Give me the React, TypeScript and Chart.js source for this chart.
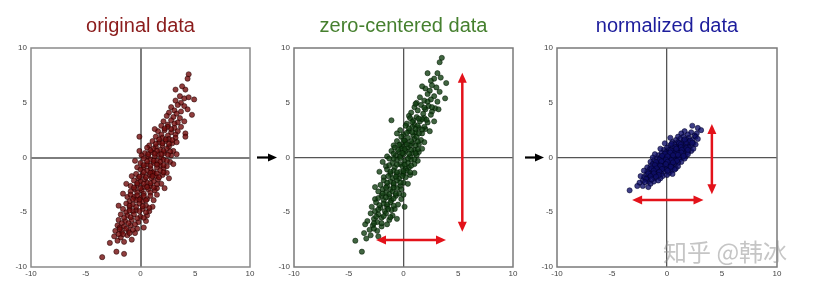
import React, { useEffect, useRef } from "react";
import { Chart, registerables } from "chart.js";

Chart.register(...registerables);

type Pt = [number, number];

const titles = ["original data", "zero-centered data", "normalized data"];
const axisMin = -10;
const axisMax = 10;
const tickStep = 5;
const watermarkText = "知乎 @韩冰";

const originalData: Pt[] = [
  [4.4, 7.6], [4.3, 7.2],
  [3.2, 6.2], [4.1, 6.2], [3.8, 6.5],
  [4.9, 5.3], [3.6, 5.6], [3.2, 5.2], [4.0, 5.4], [3.7, 5.0], [4.4, 5.5],
  [2.8, 4.6], [3.4, 4.8], [4.0, 4.7], [3.1, 4.3], [3.7, 4.2], [2.6, 4.1], [4.3, 4.4], [3.3, 4.0],
  [4.7, 3.9], [2.4, 3.8], [3.0, 3.7], [3.6, 3.6], [2.1, 3.3], [2.8, 3.4], [3.4, 3.2], [4.0, 3.3], [2.5, 3.0], [3.1, 3.1],
  [1.9, 2.9], [2.5, 2.8], [3.1, 2.7], [3.7, 2.8], [1.6, 2.4], [2.2, 2.5], [2.8, 2.3], [3.4, 2.4], [1.9, 2.1], [2.5, 2.0], [3.2, 2.1], [4.1, 2.2], [1.3, 2.6],
  [-0.1, 1.9], [4.1, 1.9], [1.4, 1.9], [2.0, 1.8], [2.6, 1.7], [3.2, 1.8], [1.1, 1.5], [1.7, 1.4], [2.3, 1.5], [2.9, 1.3], [0.8, 1.1], [1.4, 1.0], [2.0, 1.1], [2.6, 1.0], [3.3, 1.4],
  [0.6, 0.9], [1.2, 0.8], [1.8, 0.7], [2.4, 0.8], [3.0, 0.6], [0.4, 0.4], [1.0, 0.5], [1.6, 0.3], [2.2, 0.4], [2.8, 0.2], [0.1, 0.2], [0.7, 0.1], [1.3, 0.1], [1.9, 0.0], [3.3, 0.3], [-0.1, 0.6],
  [0.3, -0.1], [0.9, -0.2], [1.5, -0.3], [2.1, -0.2], [2.7, -0.4], [0.0, -0.5], [0.6, -0.6], [1.2, -0.5], [1.8, -0.7], [2.4, -0.8], [-0.3, -0.9], [0.3, -0.9], [0.9, -1.0], [1.5, -0.9], [3.0, -0.6], [-0.5, -0.3], [2.1, -1.0],
  [0.0, -1.1], [0.6, -1.2], [1.2, -1.3], [1.8, -1.2], [2.4, -1.4], [-0.4, -1.5], [0.2, -1.6], [0.8, -1.6], [1.4, -1.7], [2.0, -1.6], [-0.2, -1.9], [0.4, -2.0], [1.0, -1.9], [1.6, -2.0], [-0.8, -1.7], [2.6, -1.9], [1.1, -1.4],
  [-0.6, -2.1], [0.0, -2.2], [0.6, -2.3], [1.2, -2.2], [1.9, -2.4], [-0.9, -2.6], [-0.3, -2.5], [0.3, -2.7], [0.9, -2.6], [1.5, -2.8], [-0.5, -2.9], [0.1, -3.0], [0.7, -2.9], [-1.3, -2.4], [2.2, -2.8], [1.3, -3.0],
  [-0.9, -3.1], [-0.3, -3.2], [0.3, -3.3], [0.9, -3.2], [1.5, -3.4], [-1.2, -3.6], [-0.6, -3.6], [0.0, -3.7], [0.6, -3.8], [-1.0, -4.0], [-0.4, -3.9], [0.2, -4.0], [1.2, -3.9], [-1.6, -3.3],
  [-1.3, -4.2], [-0.7, -4.3], [-0.1, -4.2], [0.5, -4.4], [1.1, -4.5], [-1.6, -4.7], [-1.0, -4.6], [-0.4, -4.8], [0.2, -4.7], [-1.3, -5.0], [-0.7, -4.9], [0.8, -4.9], [-2.0, -4.4],
  [-1.8, -5.2], [-1.2, -5.3], [-0.6, -5.2], [0.0, -5.4], [0.6, -5.3], [-2.0, -5.7], [-1.4, -5.8], [-0.8, -5.7], [-0.2, -5.9], [-1.7, -6.0], [0.5, -5.8],
  [-2.1, -6.2], [-1.5, -6.3], [-0.9, -6.2], [-0.3, -6.5], [-2.3, -6.7], [-1.7, -6.8], [-1.1, -6.7], [-0.5, -6.9], [0.3, -6.4],
  [-2.4, -7.2], [-1.8, -7.3], [-1.2, -7.1], [-2.1, -7.6], [-1.5, -7.7], [-2.8, -7.8], [-0.8, -7.5],
  [-2.2, -8.6], [-1.5, -8.8], [-3.5, -9.1],
];

const originalCore: Pt[] = [
  [2.2, 2.65], [2.8, 2.6],
  [1.7, 1.65], [2.3, 1.65], [2.9, 1.6],
  [1.4, 1.25], [2.0, 1.3], [2.6, 1.25],
  [0.9, 0.65], [1.5, 0.6], [2.1, 0.6], [2.7, 0.55],
  [0.7, 0.3], [1.3, 0.35], [1.9, 0.3], [2.5, 0.25],
  [0.6, -0.35], [1.2, -0.3], [1.8, -0.4], [2.4, -0.3],
  [0.3, -0.7], [0.9, -0.75], [1.5, -0.65], [2.1, -0.7],
  [0.3, -1.35], [0.9, -1.4], [1.5, -1.45], [2.1, -1.35],
  [-0.1, -1.75], [0.5, -1.8], [1.1, -1.7], [1.7, -1.8],
  [-0.3, -2.35], [0.3, -2.4], [0.9, -2.35], [1.5, -2.45],
  [-0.6, -2.75], [0.0, -2.8], [0.6, -2.7], [1.2, -2.75],
  [-0.9, -3.4], [-0.3, -3.45], [0.3, -3.5], [0.9, -3.5],
  [-0.7, -3.8], [-0.1, -3.85], [0.5, -3.9],
  [-1.0, -4.4], [-0.4, -4.5], [0.2, -4.45], [0.8, -4.6],
  [-1.0, -4.85], [-0.1, -4.9], [0.5, -5.0],
  [-1.5, -5.5], [-0.9, -5.45], [-0.3, -5.55], [0.3, -5.5],
  [-1.1, -6.0], [-0.5, -6.1], [-1.9, -6.4],
  [-1.3, -6.5], [-0.7, -6.6], [-1.9, -6.55],
  [-1.6, -7.0], [-2.0, -7.0], [-1.0, -6.9],
];

const zeroCenteredData: Pt[] = [
  [3.5, 9.1], [3.3, 8.7],
  [2.2, 7.7], [3.1, 7.7], [2.8, 7.2], [2.5, 7.0], [3.4, 7.3],
  [3.9, 6.8], [2.6, 6.6], [2.0, 6.3], [3.0, 6.4], [2.4, 6.1], [3.3, 6.0], [1.7, 6.5],
  [3.8, 5.4], [2.2, 5.8], [1.5, 5.5], [2.8, 5.6], [1.9, 5.2], [2.5, 5.3], [3.1, 5.1], [1.2, 5.0], [2.2, 5.1],
  [1.0, 4.6], [1.6, 4.8], [2.3, 4.7], [2.9, 4.5], [1.3, 4.3], [2.0, 4.4], [2.6, 4.2], [0.7, 4.1], [1.8, 4.0], [3.2, 4.4], [1.1, 4.9],
  [0.5, 3.8], [1.2, 3.7], [1.9, 3.6], [2.5, 3.9], [0.9, 3.4], [1.5, 3.3], [2.2, 3.2], [0.3, 3.1], [1.0, 3.0], [1.7, 3.5], [2.8, 3.3], [-1.1, 3.4], [0.6, 3.6],
  [0.2, 2.9], [0.8, 2.8], [1.4, 2.7], [2.0, 2.6], [-0.3, 2.5], [0.5, 2.4], [1.1, 2.3], [1.7, 2.2], [2.4, 2.4], [0.0, 2.1], [0.9, 2.0], [1.3, 2.9], [-0.6, 2.2], [1.9, 2.8],
  [-0.2, 1.9], [0.4, 1.8], [1.0, 1.7], [1.6, 1.6], [-0.6, 1.5], [0.2, 1.4], [0.8, 1.3], [1.4, 1.2], [-0.9, 1.1], [-0.1, 1.0], [0.6, 1.1], [1.9, 1.4], [1.2, 1.9], [0.0, 1.6], [-0.3, 1.2],
  [-0.8, 0.9], [-0.2, 0.8], [0.4, 0.9], [1.0, 0.7], [-1.1, 0.6], [-0.4, 0.5], [0.2, 0.6], [0.8, 0.4], [1.4, 0.5], [-0.7, 0.2], [0.0, 0.3], [0.6, 0.1], [1.2, 0.2], [-1.5, 0.1], [-0.3, 0.1], [1.7, 0.8],
  [-1.3, -0.1], [-0.6, -0.2], [0.1, -0.3], [0.7, -0.2], [-1.0, -0.5], [-0.3, -0.6], [0.4, -0.5], [1.0, -0.6], [-1.6, -0.8], [-0.8, -0.9], [-0.1, -0.8], [0.5, -0.9], [1.3, -0.3], [-1.9, -0.4], [0.2, -1.0],
  [-1.5, -1.1], [-0.9, -1.2], [-0.3, -1.3], [0.3, -1.2], [-1.2, -1.5], [-0.6, -1.6], [0.0, -1.5], [0.6, -1.6], [-1.8, -1.8], [-1.0, -1.9], [-0.4, -1.9], [0.2, -1.8], [-2.2, -1.3], [1.0, -1.4],
  [-1.8, -2.1], [-1.2, -2.2], [-0.6, -2.1], [0.0, -2.3], [-2.1, -2.5], [-1.5, -2.6], [-0.9, -2.5], [-0.3, -2.6], [0.4, -2.4], [-1.9, -2.9], [-1.2, -2.9], [-0.6, -2.8], [-2.6, -2.7],
  [-2.3, -3.1], [-1.6, -3.2], [-1.0, -3.1], [-0.4, -3.3], [-2.0, -3.5], [-1.3, -3.6], [-0.7, -3.5], [0.0, -3.4], [-2.6, -3.8], [-1.8, -3.9], [-1.1, -3.9], [-0.2, -3.8],
  [-2.5, -4.1], [-1.8, -4.2], [-1.2, -4.1], [-0.5, -4.3], [-2.9, -4.5], [-2.1, -4.6], [-1.5, -4.5], [-0.8, -4.7], [-2.6, -4.9], [-1.7, -4.9], [-1.1, -4.8], [0.1, -4.5],
  [-3.0, -5.1], [-2.3, -5.2], [-1.6, -5.1], [-1.0, -5.3], [-2.7, -5.6], [-2.0, -5.5], [-1.3, -5.7], [-3.3, -5.8], [-2.4, -5.9], [-0.6, -5.6],
  [-3.5, -6.1], [-2.8, -6.2], [-2.0, -6.3], [-1.5, -6.1], [-3.1, -6.6], [-2.4, -6.7], [-3.6, -6.9], [-2.7, -6.5],
  [-3.0, -7.1], [-2.3, -7.2], [-4.4, -7.6], [-3.4, -7.4],
  [-3.8, -8.6],
];

const zeroCenteredCore: Pt[] = [
  [1.9, 4.55], [2.6, 4.6],
  [1.4, 3.55], [2.1, 3.45], [0.8, 3.25],
  [0.5, 2.65], [1.1, 2.6], [1.7, 2.55],
  [0.3, 2.25], [0.8, 2.3], [1.4, 2.2],
  [0.1, 1.55], [0.7, 1.5], [1.3, 1.45],
  [-0.4, 1.15], [0.3, 1.2], [1.1, 1.1],
  [-0.5, 0.7], [0.1, 0.75], [0.7, 0.7], [1.3, 0.75],
  [-0.9, 0.35], [-0.1, 0.4], [0.5, 0.35], [1.1, 0.4],
  [-0.9, -0.1], [-0.3, -0.05], [0.4, -0.1], [1.0, -0.15],
  [-1.3, -0.7], [-0.6, -0.65], [0.1, -0.65], [0.7, -0.75],
  [-1.2, -1.3], [-0.6, -1.35], [0.0, -1.25], [0.6, -1.35],
  [-1.4, -1.7], [-0.7, -1.75], [-0.1, -1.7],
  [-1.5, -2.3], [-0.9, -2.35], [-0.3, -2.3],
  [-1.6, -2.75], [-0.9, -2.75], [-0.2, -2.9],
  [-1.9, -3.3], [-1.3, -3.35], [-0.7, -3.3],
  [-2.3, -3.7], [-1.6, -3.65], [-0.9, -3.75],
  [-2.2, -4.35], [-1.5, -4.3], [-0.9, -4.4],
  [-2.3, -4.75], [-1.4, -4.7],
  [-2.5, -5.4], [-1.8, -5.35], [-1.2, -5.45],
  [-2.7, -6.0], [-2.0, -6.0],
];

const normalizedData: Pt[] = [
  [2.3, 2.9], [2.8, 2.7], [3.1, 2.5],
  [1.6, 2.4], [2.2, 2.3], [2.7, 2.2], [1.9, 2.1], [2.5, 2.0], [1.3, 2.2],
  [1.0, 1.9], [1.5, 1.9], [2.0, 1.8], [2.6, 1.9], [1.2, 1.7], [1.8, 1.6], [2.3, 1.6], [0.8, 1.6], [1.5, 1.5], [2.8, 1.7], [0.3, 1.8],
  [0.5, 1.4], [1.0, 1.4], [1.5, 1.3], [2.0, 1.4], [2.4, 1.3], [0.7, 1.2], [1.2, 1.1], [1.7, 1.2], [2.2, 1.1], [0.3, 1.1], [0.9, 1.0], [1.4, 1.0], [1.9, 1.0], [2.6, 1.2], [-0.2, 1.3], [1.1, 1.3],
  [0.0, 0.9], [0.5, 0.9], [1.0, 0.9], [1.5, 0.8], [2.0, 0.9], [-0.3, 0.7], [0.2, 0.7], [0.7, 0.7], [1.2, 0.6], [1.7, 0.7], [2.2, 0.6], [-0.1, 0.5], [0.4, 0.5], [0.9, 0.5], [1.4, 0.5], [1.9, 0.5], [-0.6, 0.8], [0.6, 0.6], [1.1, 0.8], [2.4, 0.8],
  [-0.5, 0.4], [0.0, 0.4], [0.5, 0.3], [1.0, 0.4], [1.5, 0.3], [-0.8, 0.2], [-0.3, 0.2], [0.2, 0.2], [0.7, 0.1], [1.2, 0.2], [1.7, 0.1], [-0.6, 0.0], [-0.1, 0.0], [0.4, 0.0], [0.9, 0.1], [1.4, 0.0], [1.9, 0.3], [-1.1, 0.3], [0.1, 0.3], [0.6, 0.4], [1.1, 0.0], [-1.3, 0.0],
  [-0.9, -0.1], [-0.4, -0.1], [0.1, -0.2], [0.6, -0.1], [1.1, -0.2], [-1.2, -0.3], [-0.7, -0.3], [-0.2, -0.3], [0.3, -0.3], [0.8, -0.4], [1.3, -0.4], [-1.0, -0.5], [-0.5, -0.5], [0.0, -0.5], [0.5, -0.5], [-1.5, -0.4], [1.6, -0.1], [-0.3, -0.4], [0.2, -0.1], [0.7, -0.3], [-0.8, -0.4], [1.0, -0.5],
  [-1.3, -0.6], [-0.8, -0.6], [-0.3, -0.7], [0.2, -0.7], [0.7, -0.6], [-1.5, -0.8], [-1.0, -0.8], [-0.5, -0.9], [0.0, -0.8], [0.5, -0.9], [-1.2, -1.0], [-0.7, -1.0], [-0.2, -1.0], [0.3, -1.0], [1.0, -0.8], [-1.8, -0.9], [-0.9, -0.7], [0.4, -0.6], [-0.4, -0.8], [0.8, -1.0],
  [-1.6, -1.1], [-1.1, -1.1], [-0.6, -1.2], [-0.1, -1.1], [0.4, -1.2], [-1.8, -1.3], [-1.3, -1.3], [-0.8, -1.4], [-0.3, -1.3], [0.2, -1.4], [-1.5, -1.5], [-1.0, -1.5], [-0.5, -1.5], [0.5, -1.5], [-2.1, -1.2], [0.7, -1.1],
  [-1.9, -1.6], [-1.4, -1.6], [-0.9, -1.7], [-0.4, -1.7], [-2.1, -1.8], [-1.6, -1.8], [-1.1, -1.9], [-0.6, -1.9], [-1.8, -2.0], [0.0, -1.6], [-2.4, -1.7],
  [-2.2, -2.1], [-1.7, -2.2], [-1.2, -2.2], [-2.5, -2.3], [-1.5, -2.4], [-0.8, -2.1],
  [-2.2, -2.6], [-2.7, -2.6], [-1.7, -2.7], [-3.4, -3.0],
];

const normalizedCore: Pt[] = [
  [1.75, 1.4], [1.25, 1.2], [0.75, 0.95], [1.25, 0.95], [1.75, 0.85], [0.35, 0.65], [0.85, 0.8], [1.35, 0.7], [1.9, 0.7],
  [-0.2, 0.35], [0.3, 0.45], [0.8, 0.3], [1.3, 0.45], [-0.45, 0.15], [0.05, 0.1], [0.55, 0.2], [1.0, 0.25], [1.5, 0.15],
  [-0.7, -0.2], [-0.1, -0.2], [0.4, -0.25], [0.9, -0.3], [-1.0, -0.4], [-0.5, -0.35], [0.05, -0.4], [0.55, -0.45],
  [-1.1, -0.7], [-0.6, -0.75], [-0.1, -0.6], [0.35, -0.85], [-1.4, -1.0], [-0.95, -1.0], [-0.45, -1.05], [0.05, -1.2],
  [-1.2, -1.2], [-0.7, -1.3], [-1.7, -1.45], [-1.2, -1.45], [-0.75, -1.6], [-1.5, -1.7], [-1.0, -1.75], [-1.9, -1.95],
  [-1.4, -2.0], [2.1, 1.55], [1.6, 1.65], [0.4, 1.25], [2.3, 1.35], [-2.0, -2.25],
];

// double-headed spread arrows, in data units: [x1, y1, x2, y2]
const zeroCenteredArrows: number[][] = [
  [5.37, -6.78, 5.37, 7.74],
  [-2.51, -7.53, 3.88, -7.53],
];
const normalizedArrows: number[][] = [
  [4.08, -3.36, 4.08, 3.06],
  [-3.17, -3.88, 3.32, -3.88],
];

const FONT = '"Liberation Sans", Arial, Helvetica, sans-serif';

type PanelCfg = {
  left: number;
  width: number;
  yAxisWidth: number;
  title: string;
  titleColor: string;
  data: Pt[];
  fill: string;
  edge: string;
  axisColor: string;
  axisWidth: number;
  frameColor: string;
  arrows: number[][];
  leftArrow: [number, number] | null;
};

const panels: PanelCfg[] = [
  {
    left: 0, width: 262, yAxisWidth: 31,
    title: titles[0], titleColor: "#8b1c1c",
    data: originalData.concat(originalCore), fill: "rgba(115,12,12,0.8)", edge: "rgba(30,0,0,0.85)",
    axisColor: "#7d7d7d", axisWidth: 2, frameColor: "#8a8a8a",
    arrows: [], leftArrow: null,
  },
  {
    left: 252, width: 273, yAxisWidth: 42,
    title: titles[1], titleColor: "#46802f",
    data: zeroCenteredData.concat(zeroCenteredCore), fill: "rgba(18,62,18,0.8)", edge: "rgba(0,22,0,0.85)",
    axisColor: "#555555", axisWidth: 1.3, frameColor: "#7a7a7a",
    arrows: zeroCenteredArrows, leftArrow: [-37, -17],
  },
  {
    left: 521, width: 268, yAxisWidth: 36,
    title: titles[2], titleColor: "#1d1d9c",
    data: normalizedData.concat(normalizedCore), fill: "rgba(15,15,105,0.8)", edge: "rgba(0,0,38,0.85)",
    axisColor: "#555555", axisWidth: 1.3, frameColor: "#7a7a7a",
    arrows: normalizedArrows, leftArrow: [-32, -13],
  },
];

function drawHead(ctx: CanvasRenderingContext2D, x: number, y: number, ang: number, len: number, w: number) {
  const bx = x - Math.cos(ang) * len;
  const by = y - Math.sin(ang) * len;
  const px = -Math.sin(ang) * (w / 2);
  const py = Math.cos(ang) * (w / 2);
  ctx.beginPath();
  ctx.moveTo(x, y);
  ctx.lineTo(bx + px, by + py);
  ctx.lineTo(bx - px, by - py);
  ctx.closePath();
  ctx.fill();
}

function drawArrow(
  ctx: CanvasRenderingContext2D, x1: number, y1: number, x2: number, y2: number,
  color: string, lw: number, len: number, w: number, both: boolean
) {
  const ang = Math.atan2(y2 - y1, x2 - x1);
  ctx.save();
  ctx.strokeStyle = color;
  ctx.fillStyle = color;
  ctx.lineWidth = lw;
  const sx1 = both ? x1 + Math.cos(ang) * len * 0.8 : x1;
  const sy1 = both ? y1 + Math.sin(ang) * len * 0.8 : y1;
  const sx2 = x2 - Math.cos(ang) * len * 0.8;
  const sy2 = y2 - Math.sin(ang) * len * 0.8;
  ctx.beginPath();
  ctx.moveTo(sx1, sy1);
  ctx.lineTo(sx2, sy2);
  ctx.stroke();
  drawHead(ctx, x2, y2, ang, len, w);
  if (both) drawHead(ctx, x1, y1, ang + Math.PI, len, w);
  ctx.restore();
}

function Panel({ cfg }: { cfg: PanelCfg }) {
  const ref = useRef<HTMLCanvasElement | null>(null);
  useEffect(() => {
    if (!ref.current) return;
    const decor = {
      id: "decor",
      afterDatasetsDraw(chart: any) {
        const { ctx, chartArea: a, scales } = chart;
        const xs = scales.x;
        const ys = scales.y;
        ctx.save();
        ctx.strokeStyle = cfg.frameColor;
        ctx.lineWidth = 1.5;
        ctx.strokeRect(a.left, a.top, a.right - a.left, a.bottom - a.top);
        ctx.restore();
        for (const [x1, y1, x2, y2] of cfg.arrows) {
          drawArrow(
            ctx,
            xs.getPixelForValue(x1), ys.getPixelForValue(y1),
            xs.getPixelForValue(x2), ys.getPixelForValue(y2),
            "#e3121a", 2.5, 10, 9, true
          );
        }
        if (cfg.leftArrow) {
          const y = ys.getPixelForValue(0);
          drawArrow(ctx, a.left + cfg.leftArrow[0], y, a.left + cfg.leftArrow[1], y, "#000000", 2.2, 9, 8, false);
        }
      },
    };
    const gridColor = (c: any) =>
      c.tick && c.tick.value === 0 ? cfg.axisColor : "rgba(0,0,0,0)";
    const tickFont = { size: 8, family: FONT };
    const chart = new Chart(ref.current, {
      type: "scatter",
      data: {
        datasets: [
          {
            data: cfg.data.map(([x, y]) => ({ x, y })),
            backgroundColor: cfg.fill,
            borderColor: cfg.edge,
            borderWidth: 0.6,
            pointRadius: 2.6,
          },
        ],
      },
      options: {
        animation: false,
        responsive: false,
        devicePixelRatio: 1,
        layout: { padding: { left: 0, right: 12, top: 0, bottom: 0 } },
        plugins: {
          legend: { display: false },
          tooltip: { enabled: false },
          title: {
            display: true,
            text: cfg.title,
            color: cfg.titleColor,
            fullSize: false,
            font: { size: 20, family: FONT, weight: "normal" },
            padding: { top: 14, bottom: 10 },
          },
        },
        scales: {
          x: {
            type: "linear",
            min: axisMin,
            max: axisMax,
            ticks: { stepSize: tickStep, font: tickFont, color: "#444", padding: 2, maxRotation: 0, autoSkip: false },
            grid: { color: gridColor, lineWidth: cfg.axisWidth, drawTicks: false },
            border: { display: false },
            afterFit: (s: any) => { s.height = 18; },
          },
          y: {
            type: "linear",
            min: axisMin,
            max: axisMax,
            ticks: { stepSize: tickStep, font: tickFont, color: "#444", padding: 4, autoSkip: false },
            grid: { color: gridColor, lineWidth: cfg.axisWidth, drawTicks: false },
            border: { display: false },
            afterFit: (s: any) => { s.width = cfg.yAxisWidth; },
          },
        },
      },
      plugins: [decor],
    } as any);
    return () => chart.destroy();
  }, [cfg]);
  return (
    <canvas
      ref={ref}
      width={cfg.width}
      height={285}
      style={{ position: "absolute", left: cfg.left, top: 0, width: cfg.width, height: 285 }}
    />
  );
}

export default function App() {
  return (
    <div style={{ position: "absolute", left: 0, top: 0, width: 813, height: 285, background: "#fff", overflow: "hidden" }}>
      {panels.map((p, i) => (
        <Panel key={i} cfg={p} />
      ))}
      <div
        style={{
          position: "absolute",
          left: 663,
          top: 238,
          fontFamily: '"Noto Sans CJK SC", sans-serif',
          fontSize: 24,
          lineHeight: "26px",
          color: "rgba(140,140,140,0.5)",
          whiteSpace: "nowrap",
          pointerEvents: "none",
        }}
      >
        {watermarkText}
      </div>
    </div>
  );
}
